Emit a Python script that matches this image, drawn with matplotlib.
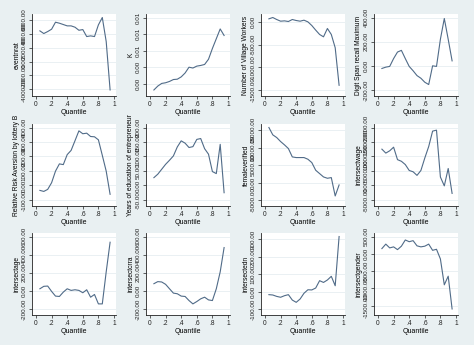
import numpy as np
import matplotlib
matplotlib.use("Agg")
import matplotlib.pyplot as plt

plt.rcParams["font.family"] = ["Liberation Sans", "DejaVu Sans"]

quantiles = [0.05, 0.10, 0.15, 0.20, 0.25, 0.30, 0.35, 0.40, 0.45, 0.50,
             0.55, 0.60, 0.65, 0.70, 0.75, 0.80, 0.85, 0.90, 0.95]

eventnrat = [4413, 4030, 4317, 4654, 5663, 5519, 5327, 5134, 5134, 4942,
             4500, 4600, 3595, 3692, 3595, 5278, 6337, 2873, -4100]
k_coef = [0.00125, 0.00172, 0.00204, 0.00212, 0.00228, 0.00251, 0.00255, 0.00283, 0.0033, 0.0040,
          0.0039, 0.00413, 0.00421, 0.00433, 0.00496, 0.00626, 0.00744, 0.00862, 0.00783]
village_workers = [74, 103, 59, 22, 29, 15, 59, 37, 22, 44,
                   7, -74, -176, -272, -324, -140, -272, -566, -1397]
digit_span = [-22, -11, -5, 60, 114, 128, 60, -5, -41, -81,
              -103, -136, -155, 0, -5, 220, 392, 220, 41]
risk_aversion = [-34, -41, -27, 19, 99, 149, 144, 213, 242, 309,
                 377, 357, 361, 338, 336, 315, 208, 99, -61]
years_edu = [27, 39, 56, 73, 87, 102, 133, 154, 146, 131,
             134, 159, 162, 127, 108, 48, 41, 142, -25]
female_verified = [15766, 13660, 12895, 11746, 10789, 9737, 7344, 7153, 7153, 7153,
                   6675, 5718, 3517, 2560, 1603, 1220, 1411, -3852, -694]
intersect_wage = [12534, 11176, 11968, 13213, 8914, 8348, 7217, 5181, 4729, 3484,
                  5181, 9480, 13439, 18756, 19095, 2919, -135, 5860, -2738]
intersect_age = [23, 50, 53, -6, -58, -62, -14, 23, 5, 12,
                 5, -21, 12, -70, -40, -144, -144, 210, 537]
intersect_crra = [79, 102, 98, 72, 23, -25, -32, -58, -62, -107,
                  -144, -118, -88, -70, -100, -107, 23, 210, 478]
intersect_edn = [-18, -20, -28, -33, -24, -18, -49, -62, -43, -10,
                 10, 9, 20, 62, 52, 66, 87, 33, 315]
intersect_gender = [150, 280, 170, 200, 120, 220, 400, 350, 380, 230,
                    200, 220, 280, 100, 130, -150, -900, -650, -1600]

series = [eventnrat, k_coef, village_workers, digit_span,
          risk_aversion, years_edu, female_verified, intersect_wage,
          intersect_age, intersect_crra, intersect_edn, intersect_gender]
ylabels = ["eventnrat", "K", "Number of Village Workers", "Digit Span recall Maximum",
           "Relative Risk Aversion by lottery B", "Years of education of entrepreneur",
           "femaleverified", "intersectwage",
           "intersectage", "intersectcrra", "intersectedn", "intersectgender"]
yticks = [[-4000, -2000, 0, 2000, 4000, 6000],
          [0.002, 0.004, 0.006, 0.008, 0.010],
          [-1500, -1000, -500, 0],
          [-200, 0, 200, 400],
          [-100, 0, 100, 200, 300, 400],
          [-50, 0, 50, 100, 150, 200],
          [-5000, 0, 5000, 10000, 15000],
          [-5000, 0, 5000, 10000, 15000, 20000],
          [-200, 0, 200, 400, 600],
          [-200, 0, 200, 400, 600],
          [-100, 0, 100, 200, 300],
          [-1500, -1000, -500, 0, 500]]
xticks = [0, 0.2, 0.4, 0.6, 0.8, 1]
xticklabels = ["0", ".2", ".4", ".6", ".8", "1"]

W, H = 474, 345
bg = "#E9F0F2"
line_col = "#506B88"
fig = plt.figure(figsize=(W / 100, H / 100), dpi=100, facecolor=bg)

col_left = [32, 146, 261, 374]
row_top = [14, 124, 233]
aw, ah = 84, 82

for i, ys in enumerate(series):
    r, c = divmod(i, 4)
    left = col_left[c]
    top = row_top[r]
    ax = fig.add_axes([left / W, 1 - (top + ah) / H, aw / W, ah / H])
    ax.set_facecolor("white")
    ax.plot(quantiles, ys, color=line_col, lw=0.8)
    t = yticks[i]
    lo = min(min(ys), t[0])
    hi = max(max(ys), t[-1])
    span = hi - lo
    ax.set_ylim(lo - 6 / 72 * span, hi + 3.5 / 72 * span)
    ax.set_xlim(-4 / 78, 1 + 2 / 78)
    ax.set_yticks(t)
    ax.set_yticklabels(["%.2f" % v for v in t], rotation=90, va="center", fontsize=4.5)
    ax.set_xticks(xticks)
    ax.set_xticklabels(xticklabels, fontsize=4.8)
    ax.grid(axis="y", color="#E6EEF1", lw=0.6)
    ax.set_axisbelow(True)
    for s in ["top", "right"]:
        ax.spines[s].set_visible(False)
    for s in ["left", "bottom"]:
        ax.spines[s].set_color("#222222")
        ax.spines[s].set_linewidth(0.6)
    ax.tick_params(length=2.2, width=0.5, pad=1.5, colors="#222222")
    ax.set_ylabel(ylabels[i], fontsize=4.8, labelpad=1)
    ax.set_xlabel("Quantile", fontsize=5, labelpad=0.5)

fig.savefig("out.png", dpi=100, facecolor=bg)
